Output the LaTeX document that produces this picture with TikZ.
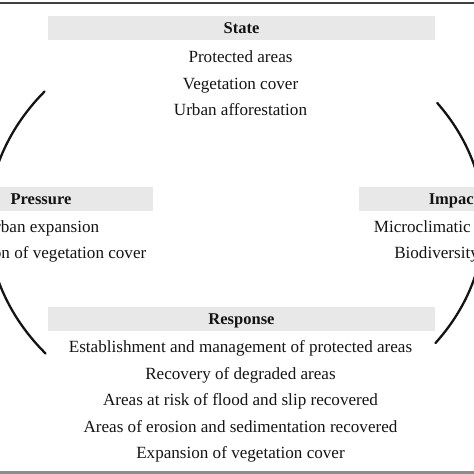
\documentclass[tikz,border=0pt]{standalone}
\usepackage{fontspec}
\setmainfont{Liberation Serif}
\usetikzlibrary{positioning,calc}
\definecolor{BoxGray}{RGB}{232,232,232}
\definecolor{InkBlack}{RGB}{20,20,20}
\tikzset{
  head/.style={fill=BoxGray,inner sep=0pt,minimum height=24pt,text height=11pt,text depth=0pt,
    font=\fontsize{16.5}{19}\selectfont\bfseries,text=InkBlack},
  item/.style={inner sep=0pt,text height=11pt,text depth=0pt,
    font=\fontsize{17.1}{19}\selectfont,text=InkBlack},
  loop/.style={draw=InkBlack,line width=2.3pt,line cap=round},
}
\begin{document}
\begin{tikzpicture}[x=1pt,y=-1pt]
\useasboundingbox (0,0) rectangle (474,474);
\clip (0,0) rectangle (474,474);
% frame rules
\draw[black!75,line width=2pt] (0,3) -- (474,3);
\draw[black!45,line width=3pt] (0,472.5) -- (474,472.5);
% state
\node[head,minimum width=387pt] (state) at (241.5,28) {State};
\node[item] (st1) at (240.5,57) {Protected areas};
\node[item] (st2) at (240.5,83.5) {Vegetation cover};
\node[item] (st3) at (240.5,110) {Urban afforestation};
% pressure
\node[head,minimum width=224pt] (press) at (41,198.5) {Pressure};
\node[item] (pr1) at (41,227) {Urban expansion};
\node[item] (pr2) at (43,253) {Reduction of vegetation cover};
% impact
\node[head,minimum width=190pt] (impact) at (454,198.5) {Impact};
\node[item] (im1) at (452,227) {Microclimatic changes};
\node[item] (im2) at (452,253) {Biodiversity loss};
% response
\node[head,minimum width=387pt] (resp) at (241.5,319) {Response};
\node[item] (re1) at (240.5,347) {Establishment and management of protected areas};
\node[item] (re2) at (240.5,373.5) {Recovery of degraded areas};
\node[item] (re3) at (240.5,400) {Areas at risk of flood and slip recovered};
\node[item] (re4) at (240.5,426.5) {Areas of erosion and sedimentation recovered};
\node[item] (re5) at (240.5,453) {Expansion of vegetation cover};
% cycle arcs
\coordinate (hub) at (238,222);
\draw[loop] ($(hub)+(-163:250 and 206)$) arc[start angle=-163,end angle=-140.7,x radius=250,y radius=206];
\draw[loop] ($(hub)+(163:250 and 206)$) arc[start angle=163,end angle=140.3,x radius=250,y radius=206];
\draw[loop] ($(hub)+(-35.9:246 and 203)$) arc[start angle=-35.9,end angle=-14,x radius=246,y radius=203];
\draw[loop] ($(hub)+(14:246 and 203)$) arc[start angle=14,end angle=36.6,x radius=246,y radius=203];
\end{tikzpicture}
\end{document}
